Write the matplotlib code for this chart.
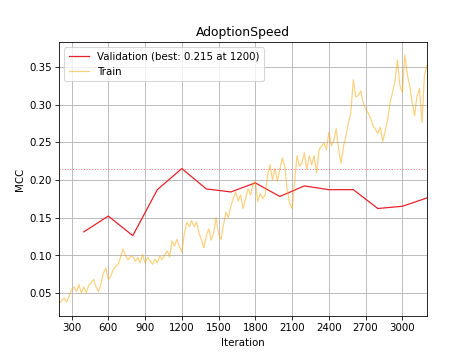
import numpy as np
import matplotlib.pyplot as plt

title = "AdoptionSpeed"

val_iters = [400, 600, 800, 1000, 1200, 1400, 1600, 1800, 2000, 2200, 2400, 2600, 2800, 3000, 3200]
val_mcc = [0.131, 0.152, 0.126, 0.187, 0.215, 0.188, 0.184, 0.196, 0.178, 0.192, 0.187, 0.187, 0.162, 0.165, 0.176]

train_iters = list(range(200, 3201, 20))
train_mcc = [
    0.036, 0.040, 0.043, 0.038, 0.046, 0.054, 0.058, 0.052, 0.061, 0.050,
    0.058, 0.050, 0.060, 0.063, 0.068, 0.058, 0.052, 0.062, 0.076, 0.083,
    0.068, 0.072, 0.081, 0.085, 0.088, 0.097, 0.108, 0.100, 0.094, 0.098,
    0.099, 0.092, 0.097, 0.090, 0.101, 0.090, 0.097, 0.093, 0.088, 0.095,
    0.090, 0.099, 0.094, 0.100, 0.106, 0.098, 0.119, 0.112, 0.121, 0.112,
    0.104, 0.128, 0.144, 0.138, 0.146, 0.138, 0.144, 0.130, 0.120, 0.110,
    0.126, 0.135, 0.120, 0.130, 0.150, 0.128, 0.121, 0.140, 0.157, 0.150,
    0.165, 0.175, 0.184, 0.172, 0.180, 0.162, 0.175, 0.188, 0.180, 0.193,
    0.198, 0.171, 0.182, 0.175, 0.180, 0.207, 0.220, 0.200, 0.215, 0.198,
    0.214, 0.229, 0.218, 0.187, 0.169, 0.162, 0.196, 0.232, 0.218, 0.222,
    0.236, 0.214, 0.232, 0.220, 0.232, 0.209, 0.240, 0.245, 0.249, 0.240,
    0.263, 0.245, 0.252, 0.268, 0.240, 0.222, 0.245, 0.258, 0.276, 0.290,
    0.333, 0.310, 0.312, 0.318, 0.303, 0.294, 0.289, 0.282, 0.272, 0.267,
    0.262, 0.270, 0.251, 0.265, 0.280, 0.303, 0.316, 0.332, 0.359, 0.325,
    0.316, 0.366, 0.340, 0.325, 0.303, 0.285, 0.312, 0.321, 0.276, 0.339,
    0.352,
]

x_ticks = [300, 600, 900, 1200, 1500, 1800, 2100, 2400, 2700, 3000]

best_i = int(np.argmax(val_mcc))
best_val = val_mcc[best_i]
best_iter = val_iters[best_i]

# default 6.4x4.8 figure, rendered at a low dpi
dpi = 74
fig = plt.figure(figsize=(474.3 / dpi, 355.3 / dpi), dpi=dpi)
plt.plot(val_iters, val_mcc, color='#e8202a', linewidth=1.2,
         label=f'Validation (best: {best_val:.3f} at {best_iter})')
plt.plot(train_iters, train_mcc, color='orange', alpha=0.5, linewidth=1.2, label='Train')
plt.axhline(best_val, color='#ff3030', linestyle=':', linewidth=1.0, alpha=0.6)
plt.xlim(min(train_iters), max(train_iters))
plt.xticks(x_ticks)
plt.xlabel('Iteration')
plt.ylabel('MCC')
plt.title(title)
plt.legend(loc='upper left')
plt.grid()
plt.savefig('out.png', dpi=dpi)
